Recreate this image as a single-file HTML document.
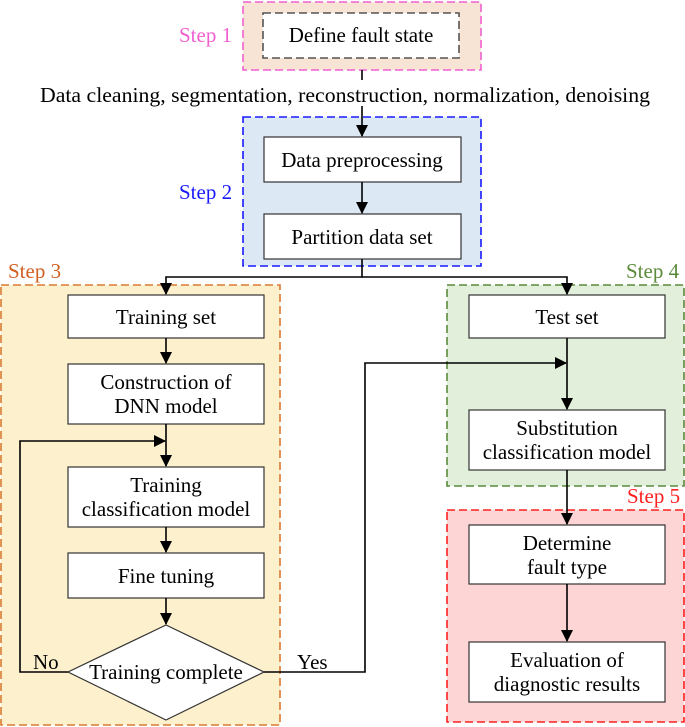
<!DOCTYPE html>
<html><head><style>body{margin:0;background:#fff}svg{display:block}text{font-family:"Liberation Serif",serif;font-size:21px;fill:#000}</style></head>
<body>
<svg width="685" height="727" viewBox="0 0 685 727" xmlns="http://www.w3.org/2000/svg">
<defs><marker id="a" markerWidth="12" markerHeight="12" refX="11" refY="6" orient="auto" markerUnits="userSpaceOnUse"><path d="M0,0 L12,6 L0,12 z" fill="#000"/></marker></defs>
<g stroke-width="1.6" stroke-dasharray="8,4">
<rect x="243" y="2" width="238" height="68" fill="#f8e4d4" stroke="#f060d0"/>
<rect x="243" y="117" width="238" height="149" fill="#dce8f4" stroke="#1a1aff"/>
<rect x="1" y="285" width="279" height="440" fill="#fdf0cc" stroke="#d97a30"/>
<rect x="447" y="285" width="237" height="201" fill="#e2efda" stroke="#5a8a3a"/>
<rect x="447" y="510" width="237" height="212" fill="#fdd5d5" stroke="#ff2020"/>
<rect x="263" y="13" width="196" height="45" fill="#fff" stroke="#555"/>
</g>
<g fill="#fff" stroke="#333" stroke-width="1.2">
<rect x="264" y="137" width="197" height="45"/>
<rect x="264" y="214" width="197" height="45"/>
<rect x="68" y="295" width="196" height="43"/>
<rect x="68" y="364" width="196" height="60"/>
<rect x="68" y="467" width="196" height="60"/>
<rect x="68" y="553" width="196" height="45"/>
<polygon points="166,625 264,672 166,720 68,672"/>
<rect x="469" y="295" width="196" height="43"/>
<rect x="469" y="410" width="196" height="60"/>
<rect x="469" y="525" width="196" height="59"/>
<rect x="469" y="642" width="196" height="60"/>
</g>
<g stroke="#000" stroke-width="1.6" fill="none">
<line x1="362" y1="70" x2="362" y2="80"/>
<line x1="362" y1="106" x2="362" y2="136" marker-end="url(#a)"/>
<line x1="362" y1="182" x2="362" y2="213" marker-end="url(#a)"/>
<polyline points="362,259 362,277 166,277 166,294" marker-end="url(#a)"/>
<polyline points="362,277 567,277 567,294" marker-end="url(#a)"/>
<line x1="166" y1="338" x2="166" y2="363" marker-end="url(#a)"/>
<line x1="166" y1="424" x2="166" y2="466" marker-end="url(#a)"/>
<polyline points="68,672 20,672 20,441 165,441" marker-end="url(#a)"/>
<line x1="166" y1="527" x2="166" y2="552" marker-end="url(#a)"/>
<line x1="166" y1="598" x2="166" y2="624" marker-end="url(#a)"/>
<polyline points="264,672 365,672 365,363 566,363" marker-end="url(#a)"/>
<line x1="567" y1="338" x2="567" y2="409" marker-end="url(#a)"/>
<line x1="567" y1="470" x2="567" y2="524" marker-end="url(#a)"/>
<line x1="567" y1="584" x2="567" y2="641" marker-end="url(#a)"/>
</g>
<g text-anchor="middle">
<text x="361" y="42">Define fault state</text>
<text x="345" y="102" textLength="610" lengthAdjust="spacingAndGlyphs">Data cleaning, segmentation, reconstruction, normalization, denoising</text>
<text x="362" y="167">Data preprocessing</text>
<text x="362" y="244">Partition data set</text>
<text x="166" y="324">Training set</text>
<text x="166" y="389">Construction of</text>
<text x="166" y="413">DNN model</text>
<text x="166" y="492">Training</text>
<text x="166" y="516">classification model</text>
<text x="166" y="583">Fine tuning</text>
<text x="166" y="679">Training complete</text>
<text x="567" y="324">Test set</text>
<text x="567" y="435">Substitution</text>
<text x="567" y="459">classification model</text>
<text x="567" y="550">Determine</text>
<text x="567" y="574">fault type</text>
<text x="567" y="667">Evaluation of</text>
<text x="567" y="691">diagnostic results</text>
</g>
<text x="179" y="42" style="fill:#f060d0">Step 1</text>
<text x="179" y="199" style="fill:#1a1aff">Step 2</text>
<text x="8" y="278" style="fill:#d06020">Step 3</text>
<text x="626" y="278" style="fill:#5a8a3a">Step 4</text>
<text x="627" y="503" style="fill:#ff2020">Step 5</text>
<text x="33" y="669">No</text>
<text x="297" y="669">Yes</text>
</svg>
</body></html>
